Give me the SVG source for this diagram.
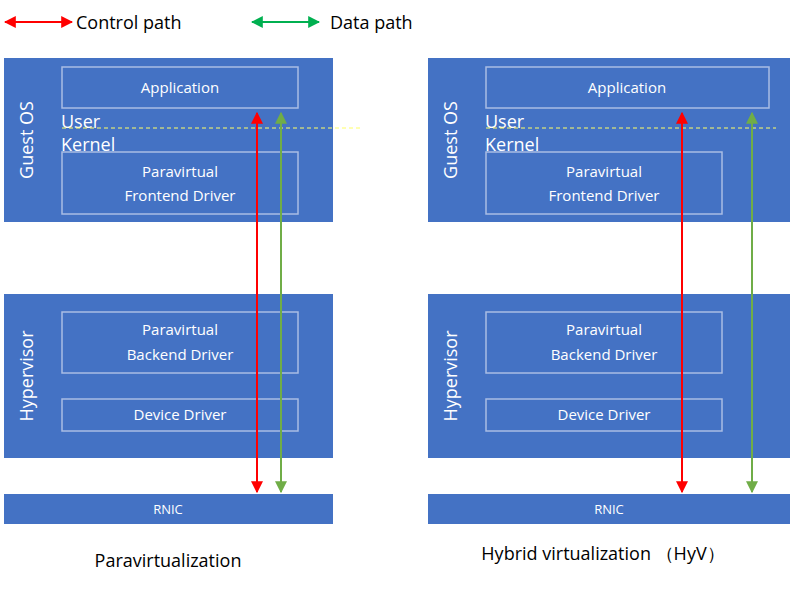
<svg xmlns="http://www.w3.org/2000/svg" width="794" height="589" viewBox="0 0 794 589">
<style>
.box{fill:#4472c4}
.in{fill:none;stroke:#a9bde4;stroke-width:1.5}
.t{font-family:"Open Sans","Liberation Sans",sans-serif;font-size:15px;fill:#fff;text-anchor:middle}
.k{font-family:"Open Sans","Liberation Sans",sans-serif;font-size:18px;fill:#fff}
.cap{font-family:"Open Sans","Liberation Sans",sans-serif;font-size:18px;fill:#000}
.red{stroke:#ff0000;stroke-width:2;fill:none}
.grn{stroke:#70ad47;stroke-width:2;fill:none}
.lg{stroke:#00b050;stroke-width:2;fill:none}
.dash{stroke:#ffff66;stroke-width:1;stroke-dasharray:4,3}
</style>
<defs>
<marker id="ar" viewBox="0 0 10 10" refX="9" refY="5" markerWidth="6" markerHeight="6" orient="auto-start-reverse"><path d="M0,0L10,5L0,10z" fill="#ff0000"/></marker>
<marker id="ag" viewBox="0 0 10 10" refX="9" refY="5" markerWidth="6" markerHeight="6" orient="auto-start-reverse"><path d="M0,0L10,5L0,10z" fill="#70ad47"/></marker>
<marker id="al" viewBox="0 0 10 10" refX="9" refY="5" markerWidth="6" markerHeight="6" orient="auto-start-reverse"><path d="M0,0L10,5L0,10z" fill="#00b050"/></marker>
</defs>
<g id="legend">
<line class="red" x1="5" y1="22" x2="72" y2="22" marker-start="url(#ar)" marker-end="url(#ar)"/>
<text class="cap" x="76" y="29">Control path</text>
<line class="lg" x1="252" y1="22" x2="319" y2="22" marker-start="url(#al)" marker-end="url(#al)"/>
<text class="cap" x="330" y="29">Data path</text>
</g>
<g id="left-guest">
<rect class="box" x="4" y="58" width="329" height="164"/>
<rect class="in" x="62" y="67" width="236" height="41"/>
<text class="t" x="180" y="93">Application</text>
<text class="k" x="61" y="128">User</text>
<text class="k" x="61" y="151">Kernel</text>
<rect class="in" x="62" y="152" width="236" height="62"/>
<text class="t" x="180" y="177">Paravirtual</text>
<text class="t" x="180" y="201">Frontend Driver</text>
<text class="k" transform="translate(33,140) rotate(-90)" text-anchor="middle">Guest OS</text>
<line class="dash" x1="62" y1="128" x2="360" y2="128"/>
</g>
<g id="left-hyp">
<rect class="box" x="4" y="294" width="329" height="164"/>
<rect class="in" x="62" y="312" width="236" height="61"/>
<text class="t" x="180" y="335">Paravirtual</text>
<text class="t" x="180" y="360">Backend Driver</text>
<rect class="in" x="62" y="399" width="236" height="32"/>
<text class="t" x="180" y="420">Device Driver</text>
<text class="k" transform="translate(33,376) rotate(-90)" text-anchor="middle">Hypervisor</text>
</g>
<g id="left-rnic">
<rect class="box" x="4" y="494" width="329" height="30"/>
<text class="t" x="168" y="514" style="font-size:13px">RNIC</text>
<text class="cap" x="168" y="567" text-anchor="middle">Paravirtualization</text>
</g>
<g id="right-guest">
<rect class="box" x="428" y="58" width="362" height="164"/>
<rect class="in" x="486" y="67" width="283" height="41"/>
<text class="t" x="627" y="93">Application</text>
<text class="k" x="485" y="128">User</text>
<text class="k" x="485" y="151">Kernel</text>
<rect class="in" x="486" y="152" width="236" height="62"/>
<text class="t" x="604" y="177">Paravirtual</text>
<text class="t" x="604" y="201">Frontend Driver</text>
<text class="k" transform="translate(457,140) rotate(-90)" text-anchor="middle">Guest OS</text>
<line class="dash" x1="486" y1="128" x2="776" y2="128"/>
</g>
<g id="right-hyp">
<rect class="box" x="428" y="294" width="362" height="164"/>
<rect class="in" x="486" y="312" width="236" height="61"/>
<text class="t" x="604" y="335">Paravirtual</text>
<text class="t" x="604" y="360">Backend Driver</text>
<rect class="in" x="486" y="399" width="236" height="32"/>
<text class="t" x="604" y="420">Device Driver</text>
<text class="k" transform="translate(457,376) rotate(-90)" text-anchor="middle">Hypervisor</text>
</g>
<g id="right-rnic">
<rect class="box" x="428" y="494" width="362" height="30"/>
<text class="t" x="609" y="514" style="font-size:13px">RNIC</text>
<text class="cap" x="603" y="560" text-anchor="middle">Hybrid virtualization （HyV）</text>
</g>
<g id="connectors">
<line class="red" x1="257" y1="113" x2="257" y2="492" marker-start="url(#ar)" marker-end="url(#ar)"/>
<line class="grn" x1="281" y1="113" x2="281" y2="492" marker-start="url(#ag)" marker-end="url(#ag)"/>
<line class="red" x1="682" y1="113" x2="682" y2="492" marker-start="url(#ar)" marker-end="url(#ar)"/>
<line class="grn" x1="752" y1="113" x2="752" y2="492" marker-start="url(#ag)" marker-end="url(#ag)"/>
</g>
</svg>
